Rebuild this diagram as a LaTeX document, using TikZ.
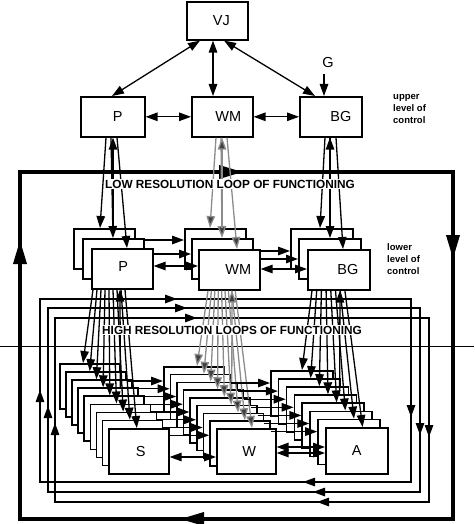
\documentclass[tikz,border=0pt]{standalone}
\usepackage{fontspec}
\setmainfont{Liberation Sans}
\usetikzlibrary{arrows.meta,positioning}

\tikzset{
  box/.style={draw, line width=1.6pt, fill=white, inner sep=0pt, anchor=north west,
    minimum width=61pt, minimum height=40pt},
  lowbox/.style={box, minimum width=60pt, minimum height=45pt},
  lbl/.style={font=\fontsize{14.5}{16}\selectfont, inner sep=0pt},
  arr/.style={line width=1.3pt, -{Triangle[length=12pt,width=8.5pt]}},
  arrb/.style={line width=1.3pt, {Triangle[length=12pt,width=8.5pt]}-{Triangle[length=12pt,width=8.5pt]}},
  garr/.style={line width=1.3pt, draw=black!45, -{Triangle[length=12pt,width=8.5pt,fill=black!75]}},
  hrloop/.style={line width=1.2pt},
  bigloop/.style={line width=3.5pt},
  bighead/.style={line width=3.5pt, -{Triangle[length=24pt,width=13pt]}},
  looptitle/.style={font=\bfseries\fontsize{11.8}{13}\selectfont, fill=white, inner sep=1pt},
  ctlnote/.style={font=\bfseries\fontsize{9.5}{12}\selectfont, align=left, inner sep=0pt, anchor=north west}
}

\begin{document}
\begin{tikzpicture}[x=1pt,y=-1pt]
\useasboundingbox (0,0) rectangle (474,524);

% upper level of control
\node[box, minimum height=38pt, label={[lbl,xshift=4pt]center:VJ}] (vj) at (186,1) {};
\node[box, minimum width=64pt, label={[lbl,xshift=5pt]center:P}] (p) at (80,96) {};
\node[box, label={[lbl,xshift=6pt]center:WM}] (wm) at (191,96) {};
\node[box, minimum width=62pt, label={[lbl,xshift=10pt]center:BG}] (bg) at (299,96) {};
\node[lbl] (g) at (328,63) {G};
\node[ctlnote] (upctl) at (393,94) {upper\\level of\\control};

% lower level of control
\node[box] (p0) at (73,228) {};
\node[box] (p1) at (82,238) {};
\node[box, label={[lbl,xshift=1pt,yshift=2pt]center:P}] (p2) at (91,248) {};
\node[box] (wm0) at (184,228) {};
\node[box] (wm1) at (191,238) {};
\node[box, label={[lbl,xshift=9pt]center:WM}] (wm2) at (198,249) {};
\node[box, minimum width=62pt] (bg0) at (290,228) {};
\node[box, minimum width=62pt] (bg1) at (298,238) {};
\node[box, minimum width=62pt, label={[lbl,xshift=9pt]center:BG}] (bg2) at (307,249) {};
\node[ctlnote] (lowctl) at (387,243) {lower\\level of\\control};

% S, W, A stacks
\foreach \k in {0,...,7}
  \node[lowbox] (s\k) at ({59+6.1*\k},{363+8.1*\k}) {};
\node[lowbox, label={[lbl,xshift=2pt]center:S}] (s8) at (108,428) {};
\foreach \k in {0,...,7}
  \node[lowbox] (w\k) at ({163+6.6*\k},{366+7.75*\k}) {};
\node[lowbox, minimum width=59pt, label={[lbl,xshift=3pt]center:W}] (w8) at (216,428) {};
\foreach \k in {0,...,6}
  \node[lowbox, minimum width=62pt] (a\k) at ({270+7.86*\k},{370+8.1*\k}) {};
\node[lowbox, minimum width=62pt, minimum height=46pt, label={[lbl]center:A}] (a7) at (325,427) {};

% low resolution loop
\draw[bigloop] (20,172) rectangle (453,519);
\draw[bighead] (200,172) -- (243,172);
\draw[bighead] (453,222) -- (453,259);
\draw[bighead] (222,519) -- (180,519);
\draw[bighead] (20,280) -- (20,240);

% high resolution loops
\draw[hrloop] (40,299) rectangle (411,482);
\draw[hrloop] (48,308) rectangle (420,492);
\draw[hrloop] (55,318) rectangle (429,502);
\draw[arr] (133,299) -- (177,299);
\draw[arr] (146,308) -- (187,308);
\draw[arr] (158,318) -- (197,318);
\draw[arr] (411,380) -- (411,417);
\draw[arr] (420,395) -- (420,435);
\draw[arr] (429,400) -- (429,437);
\draw[arr] (342,482) -- (303,482);
\draw[arr] (335,492) -- (313,492);
\draw[arr] (360,502) -- (317,502);
\draw[arr] (40,430) -- (40,390);
\draw[arr] (48,440) -- (48,406);
\draw[arr] (55,452) -- (55,423);
\draw[line width=0.8pt] (0,346) -- (474,346);

% upper level links
\draw[arrb] ([xshift=14]vj.south west) -- ([xshift=32]p.north west);
\draw[arrb] ([xshift=27]vj.south west) -- ([xshift=22]wm.north west);
\draw[arrb] ([xshift=38]vj.south west) -- ([xshift=16]bg.north west);
\draw[arrb] (p) -- (wm);
\draw[arrb] (wm) -- (bg);
\coordinate (gin) at ([xshift=25]bg.north west);
\coordinate (gtop) at ([yshift=-6]g.south);
\draw[arr] (gin |- gtop) -- (gin);

% upper <-> lower
\foreach \k/\a/\b in {0/26/27,1/31/31,2/37/36}
  \draw[arr] ([xshift=\a]p.south west) -- ([xshift=\b]p\k.north west);
\foreach \k/\a/\b in {0/25/26,1/30/31,2/36/39}
  \draw[garr] ([xshift=\a]wm.south west) -- ([xshift=\b]wm\k.north west);
\foreach \k/\a/\b in {0/26/30,1/31/32,2/37/36}
  \draw[arr] ([xshift=\a]bg.south west) -- ([xshift=\b]bg\k.north west);
\draw[arr] ([xshift=40]p0.north west) -- ([xshift=33]p.south west);
\draw[garr] ([xshift=38]wm0.north west) -- ([xshift=31]wm.south west);
\draw[arr] ([xshift=40]bg0.north west) -- ([xshift=31]bg.south west);

% lower level links
\coordinate (m1) at ([yshift=-12]wm0.north west);
\coordinate (m2) at ([yshift=-16]wm1.north west);
\coordinate (m3) at ([yshift=-17]wm2.north west);
\coordinate (m4) at ([yshift=-23]bg0.north west);
\coordinate (m5) at ([yshift=-21]bg1.north west);
\coordinate (m6) at ([yshift=-20]bg2.north west);
\draw[arr] (p1.east |- m1) -- (m1);
\draw[arr] (p2.east |- m2) -- (m2);
\draw[arrb] (p2.east |- m3) -- (m3);
\draw[arr] (wm2.east |- m4) -- (m4);
\draw[arr] (wm2.east |- m5) -- (m5);
\draw[arrb] (wm2.east |- m6) -- (m6);

% lower -> S, W, A
\foreach \k in {0,...,8}
  \draw[arr] ([xshift={2+4*\k}]p2.south west) -- ([xshift={24+0.6*\k}]s\k.north west);
\foreach \k in {0,...,8}
  \draw[garr] ([xshift={10+3.4*\k}]wm2.south west) -- ([xshift={34+0.25*\k}]w\k.north west);
\foreach \k in {0,...,7}
  \draw[arr] ([xshift={5+4.7*\k}]bg2.south west) -- ([xshift={32+0.8*\k}]a\k.north west);
\draw[arr] ([xshift=43]s3.north west) -- ([xshift=29]p2.south west);
\draw[garr] ([xshift=49]w3.north west) -- ([xshift=34]wm2.south west);
\draw[arr] ([xshift=46]a3.north west) -- ([xshift=33]bg2.south west);

% S -> W -> A
\foreach \k [evaluate=\k as \j using int(\k+1)] in {0,...,7}{
  \coordinate (h\k) at ([yshift=-15]w\k.north west);
  \draw[arr] (s\j.east |- h\k) -- (h\k);
}
\foreach \k [evaluate=\k as \j using int(\k+1)] in {0,...,6}{
  \coordinate (e\k) at ([yshift=-13]a\k.north west);
  \draw[arr] (w\j.east |- e\k) -- (e\k);
}
\draw[arrb] ([yshift=-29]s8.north east) -- ([yshift=-29]w8.north west);
\draw[arrb] ([yshift=-19]w8.north east) -- ([yshift=-20]a7.north west);
\draw[arrb] ([yshift=-25]w8.north east) -- ([yshift=-26]a7.north west);

% loop titles
\node[looptitle] (lowres) at (230,184) {LOW RESOLUTION LOOP OF FUNCTIONING};
\node[looptitle] (highres) at (232,330) {HIGH RESOLUTION LOOPS OF FUNCTIONING};
\end{tikzpicture}
\end{document}
